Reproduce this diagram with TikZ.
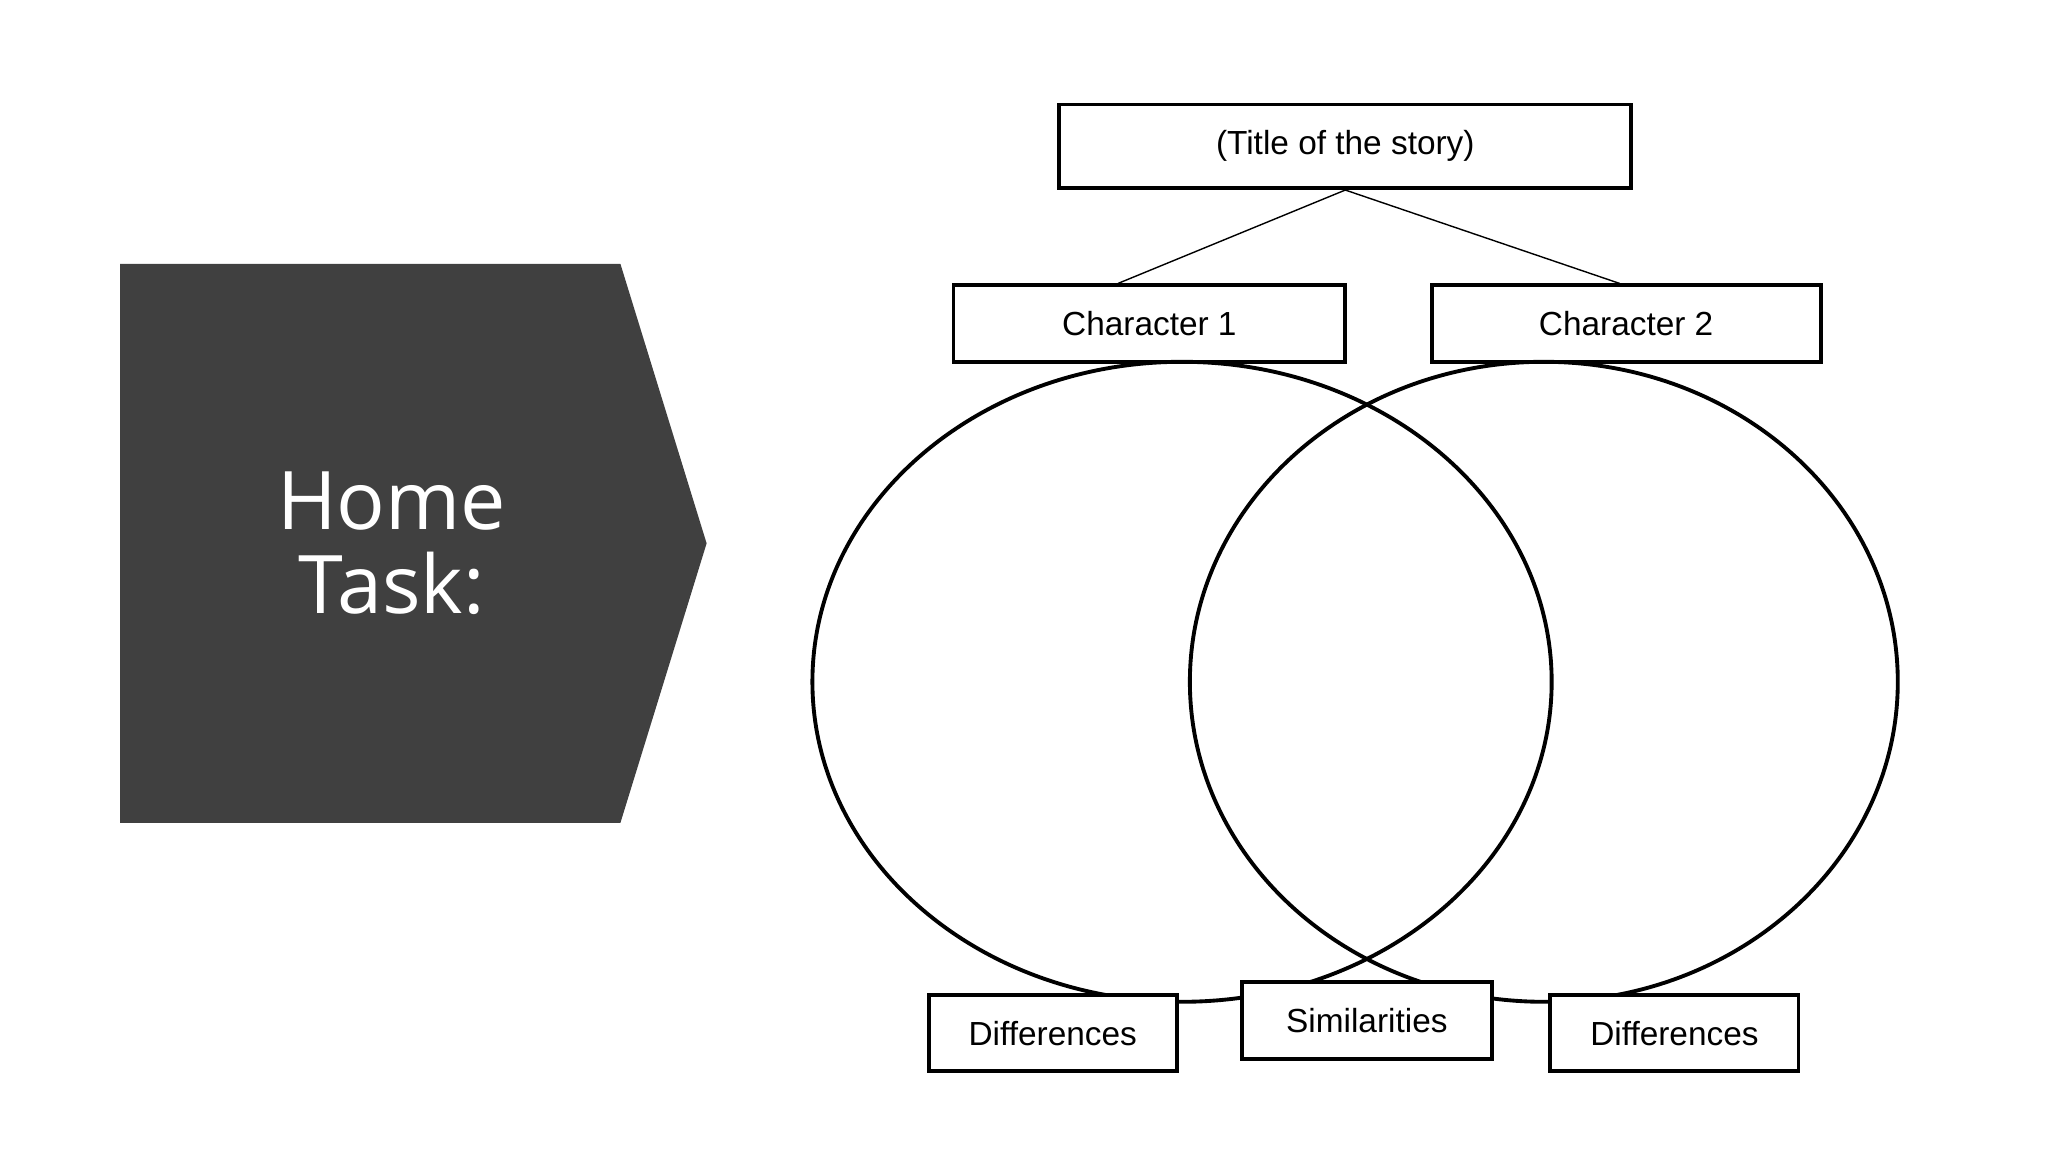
\documentclass[tikz,border=0pt]{standalone}
\usepackage{fontspec}
\setmainfont{Liberation Sans}
\newfontfamily\slidefont{Open Sans}
\usepackage{xcolor}
\definecolor{slidegray}{HTML}{404040}

\begin{document}
\begin{tikzpicture}[
    x=0.013061cm, y=-0.013061cm,
    box/.style={rectangle, draw, line width=1.1pt, inner sep=0pt, font=\fontsize{9.5}{11}\selectfont},
    link/.style={line width=0.4pt},
    ring/.style={line width=1.1pt}
]
\useasboundingbox (0,0) rectangle (1568,882);

% Left side: title shape
\fill[slidegray] (92,202) -- (475,202) -- (541,416) -- (475,630) -- (92,630) -- cycle;
\node[text=white, align=center, font=\slidefont\fontsize{23}{24}\selectfont] (task) at (300,416) {Home\\Task:};

% Top boxes
\node[box, minimum width=162.8pt, minimum height=23.8pt] (title) at (1030,112) {(Title of the story)};
\node[box, minimum width=111.5pt, minimum height=21.9pt] (char1) at (880,247.5) {Character 1};
\node[box, minimum width=110.7pt, minimum height=21.9pt] (char2) at (1245,247.5) {Character 2};

\coordinate (c1top) at (856,217);
\coordinate (c2top) at (1240,217);
\draw[link] (title.south) -- (c1top);
\draw[link] (title.south) -- (c2top);

% Circles
\draw[ring] (905,522) ellipse [x radius=283, y radius=245];
\draw[ring] (1182,522) ellipse [x radius=271, y radius=245];

% Bottom boxes
\node[box, fill=white, minimum width=70.6pt, minimum height=21.6pt] (diff1) at (806,791) {Differences};
\node[box, fill=white, minimum width=71pt, minimum height=21.9pt] (sim) at (1046.5,781.5) {Similarities};
\node[box, fill=white, minimum width=70.6pt, minimum height=21.6pt] (diff2) at (1282,791) {Differences};

\end{tikzpicture}
\end{document}
